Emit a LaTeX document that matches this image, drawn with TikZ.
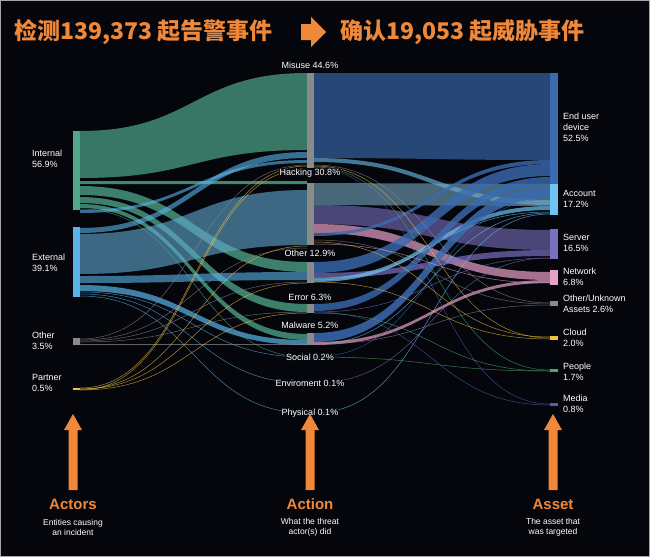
\documentclass[tikz,border=0pt]{standalone}
\usepackage{fontspec}
\setmainfont{Liberation Sans}
\newfontfamily\cjk{Noto Sans CJK SC}
\definecolor{bg}{HTML}{05060C}
\definecolor{org}{HTML}{F0883A}
\definecolor{teal}{HTML}{4FA88A}
\definecolor{ext}{HTML}{5AB4E8}
\definecolor{eud}{HTML}{3A6BB0}
\definecolor{acc}{HTML}{6EC3F0}
\definecolor{srv}{HTML}{7B6FC0}
\definecolor{net}{HTML}{E8A0C8}
\definecolor{gr}{HTML}{8A8A8A}
\definecolor{yel}{HTML}{F0C040}
\definecolor{ppl}{HTML}{4FA86A}
\definecolor{med}{HTML}{5A5AB0}
\newcommand\flw[7]{\fill[#7] (#1,#2) .. controls ({(#1+#4)/2},#2) and ({(#1+#4)/2},#5) .. (#4,#5) -- (#4,#6) .. controls ({(#1+#4)/2},#6) and ({(#1+#4)/2},#3) .. (#1,#3) -- cycle;}
\newcommand\lnk[5]{\draw[#5] (#1,#2) .. controls ({(#1+#3)/2},#2) and ({(#1+#3)/2},#4) .. (#3,#4);}
\newcommand\orarrow[2]{\fill[org] (#1,#2) -- ++(9,16) -- ++(-4.5,0) -- ++(0,60) -- ++(-9,0) -- ++(0,-60) -- ++(-4.5,0) -- cycle;}
\tikzset{
 lbl/.style={text=white,font=\fontsize{9}{11}\selectfont,align=left,anchor=west,inner sep=0pt},
 mlbl/.style={text=white,font=\fontsize{9}{11}\selectfont,fill=bg,fill opacity=0.6,text opacity=1,inner sep=1pt},
 bot/.style={text=white,font=\fontsize{8.5}{10}\selectfont,align=center},
 head/.style={text=org,font=\bfseries\fontsize{15}{16}\selectfont},
 thin/.style={line width=0.5pt,opacity=0.7}
}
\begin{document}
\begin{tikzpicture}[x=1pt,y=-1pt]
\fill[bg] (0,0) rectangle (650,557);
\draw[gray!70,line width=1pt] (0.5,0.5) rectangle (649.5,556.5);
\useasboundingbox (0,0) rectangle (650,557);
% title
\node[text=org,font=\cjk\bfseries\fontsize{23}{25}\selectfont,anchor=west,inner sep=0pt] (t1) at (14,32) {检测139,373 起告警事件};
\fill[org] (301,24) -- (311,24) -- (311,17) -- (326,32) -- (311,47) -- (311,40) -- (301,40) -- cycle;
\node[text=org,font=\cjk\bfseries\fontsize{23}{25}\selectfont,anchor=west,inner sep=0pt] (t2) at (340,32) {确认19,053 起威胁事件};
% ---------- left flows
\flw{80}{131}{178}{307}{73}{150}{teal,opacity=0.7}
\flw{80}{181}{184}{307}{181}{184}{teal,opacity=0.8}
\flw{80}{186}{195}{307}{262}{272}{teal,opacity=0.75}
\flw{80}{197}{203}{307}{304}{312}{teal,opacity=0.75}
\flw{80}{204}{208}{307}{334}{340}{teal,opacity=0.75}
\flw{80}{228}{233}{307}{152}{158}{ext,opacity=0.6}
\flw{80}{234}{274}{307}{190}{245}{ext!80!gray,opacity=0.6}
\flw{80}{276}{283}{307}{272}{280}{ext,opacity=0.6}
\flw{80}{285}{291}{307}{340}{345}{ext,opacity=0.7}
\flw{80}{210}{213}{307}{160}{163}{ext,opacity=0.6}
\lnk{80}{292}{307}{357}{ext,thin}
\lnk{80}{294}{307}{383}{ext,thin}
\lnk{80}{296}{307}{413}{ext,thin}
\lnk{80}{209}{307}{357}{teal,thin}
\lnk{80}{339}{307}{165}{gr,thin}
\lnk{80}{340}{307}{248}{gr,thin}
\lnk{80}{341}{307}{282}{gr,thin}
\lnk{80}{342}{307}{312}{gr,thin}
\lnk{80}{344}{307}{344}{gr,thin}
\lnk{80}{388}{307}{166}{yel,thin}
\lnk{80}{389}{307}{246}{yel,thin}
\lnk{80}{389}{307}{283}{yel,thin}
\lnk{80}{390}{307}{313}{yel,thin}
\lnk{80}{390}{307}{169}{yel,thin}
% ---------- right flows
\flw{314}{73}{158}{550}{73}{160}{eud,opacity=0.65}
\flw{314}{158}{162}{550}{200}{205}{acc,opacity=0.6}
\flw{314}{183}{205}{550}{184}{206}{acc!60!gray,opacity=0.6}
\flw{314}{205}{224}{550}{230}{250}{srv,opacity=0.6}
\flw{314}{224}{233}{550}{272}{280}{net,opacity=0.7}
\flw{314}{233}{236}{550}{160}{164}{eud,opacity=0.8}
\flw{314}{262}{273}{550}{164}{176}{eud,opacity=0.8}
\flw{314}{273}{278}{550}{250}{256}{srv,opacity=0.7}
\flw{314}{278}{282}{550}{206}{210}{acc,opacity=0.7}
\flw{314}{304}{311}{550}{177}{186}{eud,opacity=0.8}
\flw{314}{333}{342}{550}{187}{198}{eud,opacity=0.85}
\flw{314}{342}{345}{550}{280}{283}{net,opacity=0.7}
\lnk{314}{165}{550}{303}{gr,thin}
\lnk{314}{166}{550}{338}{yel,thin}
\lnk{314}{167}{550}{370}{ppl,thin}
\lnk{314}{168}{550}{404}{med,thin}
\lnk{314}{240}{550}{304}{gr,thin}
\lnk{314}{242}{550}{337}{yel,thin}
\lnk{314}{244}{550}{283}{net,thin}
\lnk{314}{280}{550}{212}{acc,thin}
\lnk{314}{282}{550}{339}{yel,thin}
\lnk{314}{312}{550}{258}{srv,thin}
\lnk{314}{312}{550}{405}{med,thin}
\lnk{314}{313}{550}{371}{ppl,thin}
\lnk{314}{344}{550}{213}{acc,thin}
\lnk{314}{344}{550}{305}{gr,thin}
\lnk{314}{357}{550}{199}{eud,thin}
\lnk{314}{357}{550}{371}{ppl,thin}
\lnk{314}{383}{550}{258}{srv,thin}
\lnk{314}{413}{550}{214}{acc,thin}
% ---------- bars
\fill[teal] (73,131) rectangle (80,210);
\fill[ext] (73,227) rectangle (80,297);
\fill[gr] (73,338) rectangle (80,345);
\fill[yel] (73,388) rectangle (80,390);
\foreach \a/\b in {73/168,183/245,262/283,304/313,333/345}{\fill[gr] (307,\a) rectangle (314,\b);}
\fill[eud] (550,73) rectangle (558,210);
\fill[acc] (550,184) rectangle (558,215);
\fill[srv] (550,229) rectangle (558,259);
\fill[net] (550,270) rectangle (558,285);
\fill[gr] (550,301) rectangle (558,306);
\fill[yel] (550,336) rectangle (558,340);
\fill[ppl] (550,369) rectangle (558,372);
\fill[med] (550,403) rectangle (558,406);
% ---------- labels
\node[lbl] (lint) at (32,159) {Internal\\56.9\%};
\node[lbl] (lext) at (32,263) {External\\39.1\%};
\node[lbl] (loth) at (32,341) {Other\\3.5\%};
\node[lbl] (lpar) at (32,383) {Partner\\0.5\%};
\node[mlbl] (mmis) at (310,65) {Misuse 44.6\%};
\node[mlbl] (mhac) at (310,173) {Hacking 30.8\%};
\node[mlbl] (moth) at (310,253) {Other 12.9\%};
\node[mlbl] (merr) at (310,297) {Error 6.3\%};
\node[mlbl] (mmal) at (310,325) {Malware 5.2\%};
\node[mlbl] (msoc) at (310,357) {Social 0.2\%};
\node[mlbl] (menv) at (310,383) {Enviroment 0.1\%};
\node[mlbl] (mphy) at (310,413) {Physical 0.1\%};
\node[lbl] (reud) at (563,127) {End user\\device\\52.5\%};
\node[lbl] (racc) at (563,199) {Account\\17.2\%};
\node[lbl] (rsrv) at (563,243) {Server\\16.5\%};
\node[lbl] (rnet) at (563,277) {Network\\6.8\%};
\node[lbl] (roth) at (563,304) {Other/Unknown\\Assets 2.6\%};
\node[lbl] (rclo) at (563,338) {Cloud\\2.0\%};
\node[lbl] (rppl) at (563,372) {People\\1.7\%};
\node[lbl] (rmed) at (563,404) {Media\\0.8\%};
% ---------- bottom
\orarrow{73}{414}
\orarrow{310}{414}
\orarrow{553}{414}
\node[head] (h1) at (73,504) {Actors};
\node[head] (h2) at (310,504) {Action};
\node[head] (h3) at (553,504) {Asset};
\node[bot] (b1) at (73,527) {Entities causing\\an incident};
\node[bot] (b2) at (310,527) {What the threat\\actor(s) did};
\node[bot] (b3) at (553,527) {The asset that\\was targeted};
\end{tikzpicture}
\end{document}
